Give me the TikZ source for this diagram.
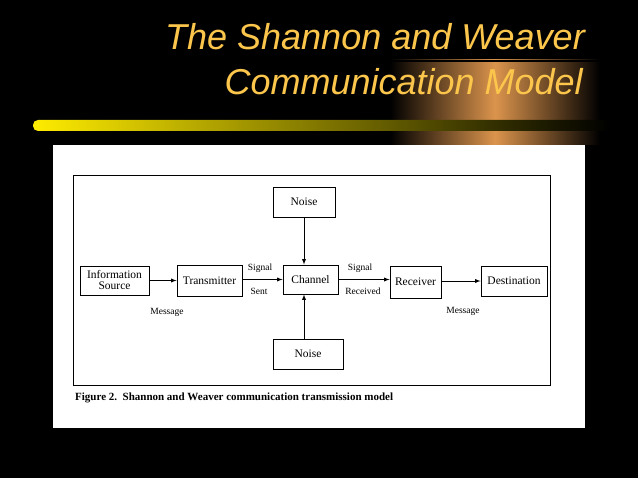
\documentclass[tikz,border=0pt]{standalone}
\usepackage{fontspec}
\setmainfont{Liberation Serif}
\newfontfamily\titlefont{Liberation Sans}
\begin{document}
\begin{tikzpicture}[x=1pt,y=-1pt,
  box/.style={draw,line width=0.9pt,inner sep=0pt,align=center,font=\fontsize{11.5}{11}\selectfont},
  lbl/.style={inner sep=0pt,font=\fontsize{9.5}{10}\selectfont},
  arr/.style={-latex,line width=0.9pt}]
\useasboundingbox (0,0) rectangle (638,478);
\fill[black] (0,0) rectangle (638,478);
% orange glow
\shade[left color=black,right color=black,middle color=orange!80!black!70] (390,60) rectangle (600,145);
\fill[black] (390,60) rectangle (600,62);
% bar
\shade[left color=yellow!85!orange,right color=black,rounded corners=5pt] (33,120) rectangle (610,131);
% title
\node[anchor=east,text=yellow!40!orange!70!white,font=\titlefont\itshape\fontsize{36}{40}\selectfont,inner sep=0pt] (t1) at (585,37) {The Shannon and Weaver};
\node[anchor=east,text=yellow!40!orange!70!white,font=\titlefont\itshape\fontsize{36}{40}\selectfont,inner sep=0pt] (t2) at (583,82) {Communication Model};
% white panel
\fill[white] (53,145) rectangle (585,428);
\draw[line width=0.8pt] (73,175) rectangle (550,385);
\node[box,minimum width=62pt,minimum height=30pt] (n1) at (304,202) {Noise};
\node[box,minimum width=69pt,minimum height=29pt] (src) at (114.5,280.5) {Information\\Source};
\node[box,minimum width=65pt,minimum height=31pt] (tx) at (209.5,280.5) {Transmitter};
\node[box,minimum width=55pt,minimum height=29pt] (ch) at (310.5,279.5) {Channel};
\node[box,minimum width=51pt,minimum height=32pt] (rx) at (415.5,282) {Receiver};
\node[box,minimum width=66pt,minimum height=30pt] (dst) at (514,281) {Destination};
\node[box,minimum width=70pt,minimum height=30pt] (n2) at (308,354) {Noise};
\draw[arr] (src) -- (tx);
\draw[arr] (tx.east|-ch) -- (ch);
\draw[arr] (ch.east) -- (rx.west|-ch.east);
\draw[arr] (rx.east|-dst) -- (dst);
\draw[arr] (n1) -- (n1|-ch.north);
\draw[arr] (n1|-n2.north) -- (n1|-ch.south);
\node[lbl] (s1) at (260,268) {Signal};
\node[lbl] (s2) at (259,291) {Sent};
\node[lbl] (s3) at (360,268) {Signal};
\node[lbl] (s4) at (363,291) {Received};
\node[lbl] (m1) at (167,312) {Message};
\node[lbl] (m2) at (463,311) {Message};
\node[anchor=west,inner sep=0pt,font=\bfseries\fontsize{11}{12}\selectfont] (cap) at (75,398) {Figure 2.\ \ Shannon and Weaver communication transmission model};
\end{tikzpicture}
\end{document}
